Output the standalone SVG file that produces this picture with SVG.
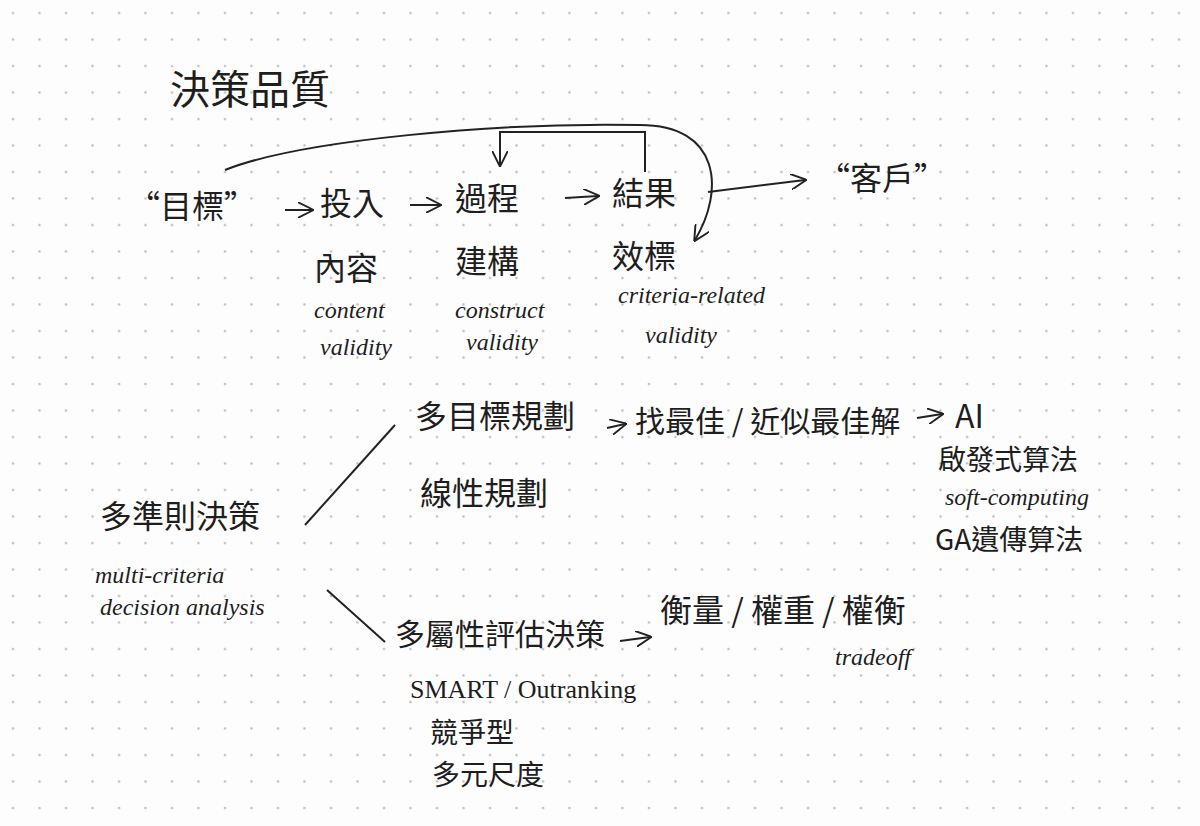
<svg xmlns="http://www.w3.org/2000/svg" width="1200" height="826" viewBox="0 0 1200 826">
<defs>
<pattern id="dots" x="0" y="0" width="26.5" height="26.5" patternUnits="userSpaceOnUse"><circle cx="13" cy="13" r="1.2" fill="#bbb"/></pattern>
<marker id="ahb" viewBox="0 0 10 10" refX="9" refY="5" markerWidth="16" markerHeight="16" orient="auto" markerUnits="userSpaceOnUse"><path d="M0,0 L10,5 L0,10" fill="none" stroke="#222" stroke-width="1.2"/></marker>
</defs>
<style>
text{font-family:"Noto Sans CJK TC","Noto Sans CJK SC",sans-serif;fill:#1e1e1e}
.zh{font-size:32px}
.en{font-family:"Liberation Serif","Noto Sans",serif;font-style:italic;font-size:24px}
.c{fill:none;stroke:#222;stroke-width:2}
</style>
<rect width="1200" height="826" fill="#fdfdfd"/>
<rect width="1200" height="826" fill="url(#dots)"/>
<g id="connectors">
<path class="c" d="M225,170 C300,140 500,122 640,125 C720,125 725,190 695,240" marker-end="url(#ahb)"/>
<path class="c" d="M645,172 L645,132 L500,132 L500,165" marker-end="url(#ahb)"/>
<path class="c" d="M285,210 L312,210" marker-end="url(#ahb)"/>
<path class="c" d="M410,205 L440,205" marker-end="url(#ahb)"/>
<path class="c" d="M565,198 L598,196" marker-end="url(#ahb)"/>
<path class="c" d="M708,192 L805,180" marker-end="url(#ahb)"/>
<path class="c" d="M305,525 L395,425"/>
<path class="c" d="M327,590 L385,642"/>
<path class="c" d="M607,428 L625,424" marker-end="url(#ahb)"/>
<path class="c" d="M917,418 L942,414" marker-end="url(#ahb)"/>
<path class="c" d="M620,641 L650,637" marker-end="url(#ahb)"/>
</g>
<g id="title"><text x="170" y="104" style="font-size:40px">決策品質</text></g>
<g id="n-goal"><text class="zh" x="128" y="218">“目標”</text></g>
<g id="n-input"><text class="zh" x="320" y="215">投入</text></g>
<g id="n-process"><text class="zh" x="455" y="210">過程</text></g>
<g id="n-result"><text class="zh" x="612" y="205">結果</text></g>
<g id="n-client"><text class="zh" x="818" y="190">“客戶”</text></g>
<g id="n-content"><text class="zh" x="314" y="280">內容</text><text class="en" x="314" y="318">content</text><text class="en" x="320" y="355">validity</text></g>
<g id="n-construct"><text class="zh" x="455" y="273">建構</text><text class="en" x="455" y="318">construct</text><text class="en" x="466" y="350">validity</text></g>
<g id="n-criteria"><text class="zh" x="612" y="268">效標</text><text class="en" x="618" y="303">criteria-related</text><text class="en" x="645" y="343">validity</text></g>
<g id="n-mop"><text class="zh" x="415" y="428">多目標規劃</text></g>
<g id="n-lp"><text class="zh" x="420" y="505">線性規劃</text></g>
<g id="n-opt"><text class="zh" x="635" y="432" style="font-size:30px">找最佳 / 近似最佳解</text></g>
<g id="n-ai"><text class="zh" x="955" y="428">AI</text><text class="zh" x="938" y="470" style="font-size:28px">啟發式算法</text><text class="en" x="945" y="505">soft-computing</text><text class="zh" x="935" y="550" style="font-size:28px">GA遺傳算法</text></g>
<g id="n-mcda"><text class="zh" x="100" y="528">多準則決策</text><text class="en" x="95" y="583">multi-criteria</text><text class="en" x="100" y="615">decision analysis</text></g>
<g id="n-madm"><text class="zh" x="395" y="645" style="font-size:30px">多屬性評估決策</text><text class="en" x="410" y="698" style="font-style:normal;font-size:26px">SMART / Outranking</text><text class="zh" x="430" y="743" style="font-size:28px">競爭型</text><text class="zh" x="432" y="785" style="font-size:28px">多元尺度</text></g>
<g id="n-weight"><text class="zh" x="660" y="622">衡量 / 權重 / 權衡</text><text class="en" x="835" y="665">tradeoff</text></g>
</svg>
